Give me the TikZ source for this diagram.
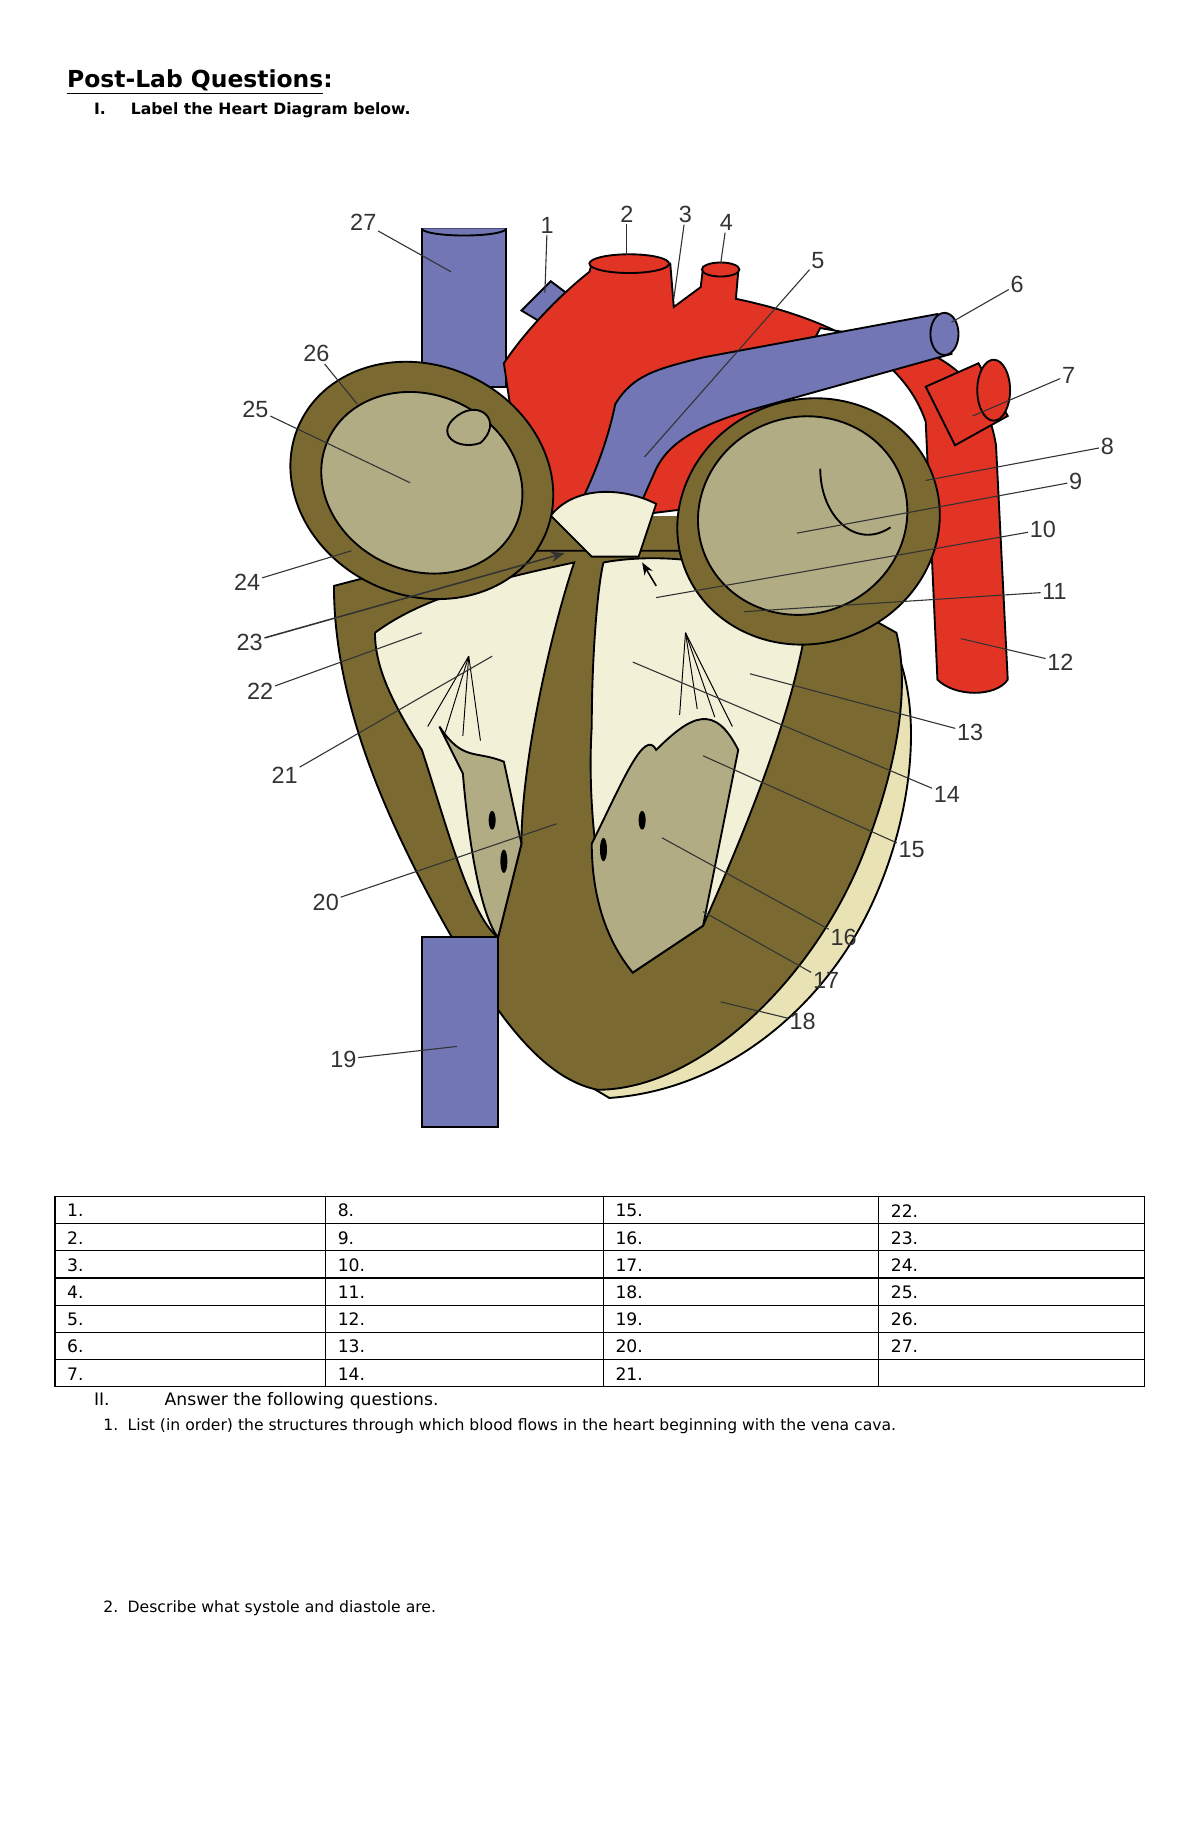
\documentclass[tikz,border=0pt]{standalone}
\usepackage{fontspec}
\usetikzlibrary{arrows.meta}
\setmainfont{DejaVu Sans}
\newfontfamily\lab{Liberation Sans}
\definecolor{hred}{HTML}{E23424}
\definecolor{hblue}{HTML}{7276B4}
\definecolor{olive}{HTML}{7A6A32}
\definecolor{lolive}{HTML}{B2AC84}
\definecolor{cream}{HTML}{F3F0D8}
\definecolor{peri}{HTML}{E9E2B4}
\begin{document}
\begin{tikzpicture}[x=0.75pt,y=-0.75pt,
 outl/.style={draw=black,line width=1.2pt},
 lead/.style={draw=black!80,line width=0.7pt},
 num/.style={font=\lab\fontsize{15}{15}\selectfont,text=black!80,inner sep=1pt},
 cell/.style={anchor=west,font=\fontsize{11}{13}\selectfont,inner sep=0pt}]
\useasboundingbox (0,0) rectangle (1024,1566);
% header
\node[anchor=west,font=\bfseries\fontsize{15}{17}\selectfont,inner sep=0] (t1) at (57,70) {\underline{Post-Lab Questions}:};
\node[anchor=west,font=\bfseries\fontsize{10}{12}\selectfont,inner sep=0] (t2) at (80,94) {I.\hspace{1.6em}Label the Heart Diagram below.};
% vessels behind
\draw[outl,fill=hblue] (360,195) rectangle (432,330);
\draw[outl,fill=hblue] (360,195) arc[start angle=180,end angle=0,x radius=36,y radius=6];
\draw[outl,fill=hblue] (445,265) -- (470,240) -- (490,255) -- (470,280) -- cycle;
% aorta arch
\draw[outl,fill=hred] (430,310) .. controls (450,280) and (480,250) .. (503,232) -- (505,225) -- (572,225) -- (575,262) -- (598,245) -- (600,228) -- (630,232) -- (628,255)
  .. controls (700,270) and (770,300) .. (790,360) -- (800,580) .. controls (815,595) and (850,595) .. (860,580) -- (850,380) .. controls (840,320) and (800,300) .. (760,290)
  -- (700,280) -- (620,430) -- (500,445) -- (450,445) -- cycle;
\draw[outl,fill=hred] (537,225) ellipse[x radius=34,y radius=8];
\draw[outl,fill=hred] (615,230) ellipse[x radius=16,y radius=6];
\draw[outl,fill=hred] (790,330) -- (835,310) -- (860,355) -- (815,380) -- cycle;
\draw[outl,fill=hred] (848,333) ellipse[x radius=14,y radius=26];
% filler between atria
\fill[olive] (450,440) rectangle (600,490);
% pulmonary trunk
\draw[outl,fill=hblue] (495,430) .. controls (510,400) and (520,370) .. (525,345) .. controls (540,320) and (560,315) .. (600,305) -- (800,268) -- (812,302) -- (640,350)
  .. controls (590,365) and (570,380) .. (560,400) -- (540,445) -- cycle;
\draw[outl,fill=hblue] (806,285) ellipse[x radius=12,y radius=18];
% pericardium
\draw[outl,fill=peri] (760,545) .. controls (790,600) and (780,700) .. (740,780) .. controls (700,860) and (620,930) .. (520,937) -- (500,925) -- (700,780) -- cycle;
% heart body
\draw[outl,fill=olive] (285,500) .. controls (285,600) and (330,700) .. (380,790) .. controls (420,860) and (460,920) .. (510,930)
  .. controls (600,930) and (700,830) .. (740,720) .. controls (770,640) and (775,580) .. (765,540) -- (640,470) -- (400,470) -- cycle;
% chambers
\draw[outl,fill=cream] (320,540) .. controls (360,510) and (420,495) .. (490,480) .. controls (470,540) and (445,650) .. (445,720) -- (425,800)
  .. controls (400,780) and (380,700) .. (360,640) .. controls (335,600) and (320,570) .. (320,540);
\draw[outl,fill=cream] (515,480) .. controls (570,470) and (650,480) .. (690,520) .. controls (680,600) and (640,700) .. (600,790) -- (540,830)
  .. controls (515,800) and (500,700) .. (505,620) .. controls (505,560) and (510,500) .. (515,480);
% valve tissue
\draw[outl,fill=lolive] (375,620) .. controls (395,650) and (405,640) .. (430,650) -- (445,720) -- (425,800) .. controls (410,780) and (400,720) .. (395,660) -- cycle;
\draw[outl,fill=lolive] (505,720) .. controls (530,670) and (550,620) .. (560,640) .. controls (590,610) and (610,600) .. (630,640) -- (600,790) -- (540,830) .. controls (515,800) and (505,760) .. (505,720);
\foreach \a/\b in {365/620,380/625,395/628,410/632}{\draw[black,line width=0.6pt] (\a,\b) -- (400,560);}
\foreach \a/\b in {580/610,595/605,610/612,625/620}{\draw[black,line width=0.6pt] (\a,\b) -- (585,540);}
\fill (420,700) ellipse[x radius=3,y radius=8] (430,735) ellipse[x radius=3,y radius=10] (515,725) ellipse[x radius=3,y radius=10] (548,700) ellipse[x radius=3,y radius=8];
% aortic root
\draw[outl,fill=cream] (470,440) .. controls (490,415) and (530,415) .. (560,430) -- (545,475) -- (505,475) -- cycle;
% atria
\draw[outl,fill=olive,rotate around={-25:(360,410)}] (360,410) ellipse[x radius=115,y radius=98];
\draw[outl,fill=lolive,rotate around={-25:(360,412)}] (360,412) ellipse[x radius=88,y radius=75];
\draw[outl,fill=lolive] (390,355) .. controls (410,340) and (430,360) .. (410,378) .. controls (390,385) and (370,370) .. (390,355);
\draw[outl,fill=olive,rotate around={20:(690,445)}] (690,445) ellipse[x radius=113,y radius=104];
\draw[outl,fill=lolive,rotate around={20:(685,440)}] (685,440) ellipse[x radius=90,y radius=84];
\draw[outl] (700,400) .. controls (700,440) and (730,470) .. (760,450);
\draw[black,line width=1pt,-{Stealth[length=8pt]}] (560,500) -- (548,480);
% lower vena cava
\draw[outl,fill=hblue] (360,800) rectangle (425,962);
% leader lines and numbers
\foreach \n/\x/\y/\ex/\ey in {
27/310/190/385/232, 1/467/192/465/250, 2/535/183/535/218, 3/585/183/575/255, 4/620/190/615/225,
5/698/222/550/390, 6/868/243/812/275, 7/912/320/830/355, 8/945/381/790/410, 9/918/411/680/455,
10/890/452/560/510, 11/900/505/635/522, 12/905/565/820/545, 13/828/625/640/575, 14/808/678/540/565,
15/778/725/600/645, 16/720/800/565/715, 17/705/837/600/778, 18/685/872/615/855, 19/293/904/390/893,
20/278/770/475/703, 21/243/662/420/560, 22/222/590/360/540, 24/211/497/300/470,
25/218/349/350/412, 26/270/302/305/345}{
 \node[num] (n\n) at (\x,\y) {\n};
 \coordinate (e\n) at (\ex,\ey);
 \draw[lead] (n\n) -- (e\n);
}
\node[num] (n23) at (213,548) {23};
\coordinate (e23) at (482,472);
\draw[lead,line width=1pt,-{Stealth[length=9pt]}] (n23) -- (e23);
% table
\foreach \i in {0,...,7}{\draw[black,line width=0.8pt] (47,1021+23.2*\i) -- (977,1021+23.2*\i);}
\foreach \x in {47,278,515,750,977}{\draw[black,line width=0.8pt] (\x,1021) -- (\x,1183.4);}
\foreach \r in {1,...,7}{
 \pgfmathtruncatemacro\b{\r+7}\pgfmathtruncatemacro\c{\r+14}\pgfmathtruncatemacro\d{\r+21}
 \node[cell] at (57,1021+23.2*\r-11) {\r.};
 \node[cell] at (288,1021+23.2*\r-11) {\b.};
 \node[cell] at (525,1021+23.2*\r-11) {\c.};
 \ifnum\r<7 \node[cell] at (760,1021+23.2*\r-11) {\d.};\fi
}
\node[cell] (q0) at (80,1195) {II.\hspace{3.2em}Answer the following questions.};
\node[cell,font=\fontsize{10}{12}\selectfont] (q1) at (88,1217) {1.\hspace{0.6em}List (in order) the structures through which blood flows in the heart beginning with the vena cava.};
\node[cell,font=\fontsize{10}{12}\selectfont] (q2) at (88,1372) {2.\hspace{0.6em}Describe what systole and diastole are.};
\end{tikzpicture}
\end{document}
